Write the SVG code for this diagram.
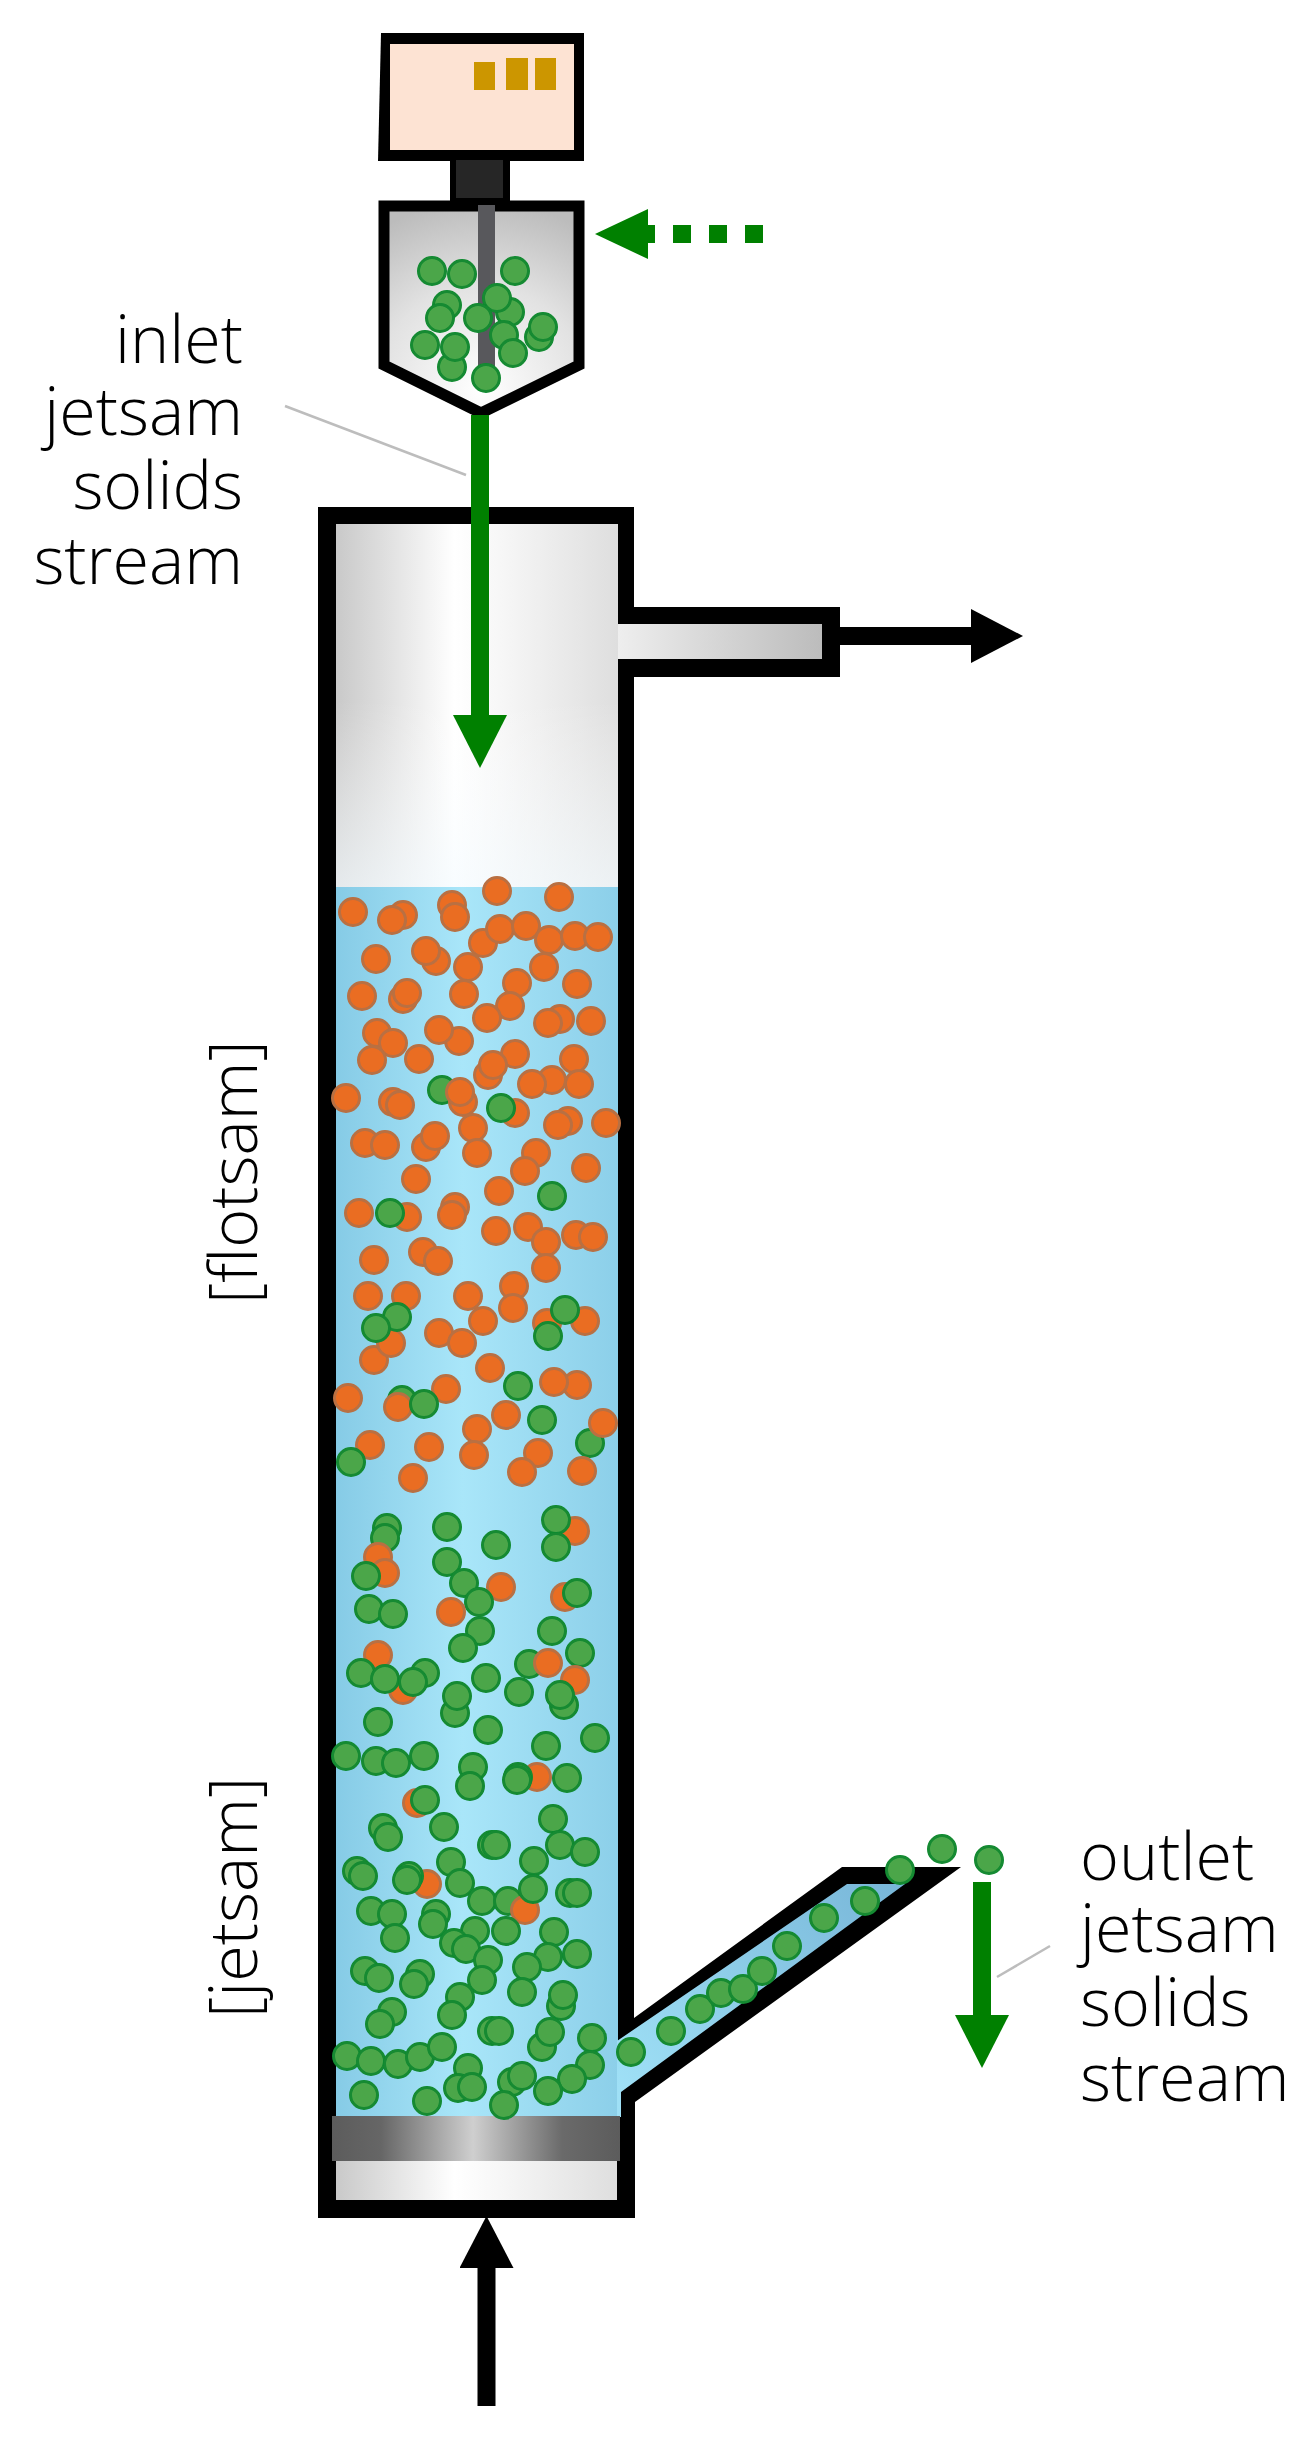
<svg xmlns="http://www.w3.org/2000/svg" width="1313" height="2440" viewBox="0 0 1313 2440">
<style>
.o{fill:#ea6d24;stroke:#b96f42;stroke-width:3}
.g{fill:#4ca64a;stroke:#128a30;stroke-width:3}
.wall{fill:#000}
.t{font-family:"Open Sans","Noto Sans",sans-serif;font-size:66.500px;font-weight:300;fill:#000}
.lead{stroke:#bdbdbd;stroke-width:2.5;fill:none}
.gl{stroke:#008000;stroke-width:18;fill:none}
.kl{stroke:#000;stroke-width:18;fill:none}
circle{r:13.5px}
</style>
<defs>
<filter id="soft" x="-5%" y="-5%" width="110%" height="110%"><feGaussianBlur stdDeviation="0.6"/></filter>
<marker id="hg" markerUnits="userSpaceOnUse" markerWidth="54" markerHeight="54" viewBox="0 0 54 54" refX="0" refY="27" orient="auto"><path d="M0,0L53,27L0,54Z" fill="#008000"/></marker>
<marker id="hd" markerUnits="userSpaceOnUse" markerWidth="54" markerHeight="50" viewBox="0 0 54 50" refX="0" refY="25" orient="auto"><path d="M0,0L53,25L0,50Z" fill="#008000"/></marker>
<marker id="hk" markerUnits="userSpaceOnUse" markerWidth="53" markerHeight="54" viewBox="0 0 53 54" refX="0" refY="27" orient="auto"><path d="M0,0L52,27L0,54Z" fill="#000"/></marker>
<linearGradient id="gray" gradientUnits="userSpaceOnUse" x1="336" y1="0" x2="618" y2="0"><stop offset="0" stop-color="#c9c9c9"/><stop offset=".15" stop-color="#dcdcdc"/><stop offset=".42" stop-color="#fff"/><stop offset=".6" stop-color="#f6f6f6"/><stop offset="1" stop-color="#dedede"/></linearGradient>
<linearGradient id="fade" gradientUnits="userSpaceOnUse" x1="0" y1="700" x2="0" y2="888"><stop offset="0" stop-color="#fff" stop-opacity="0"/><stop offset="1" stop-color="#f4fbff" stop-opacity=".65"/></linearGradient>
<linearGradient id="noz" gradientUnits="userSpaceOnUse" x1="618" y1="0" x2="822" y2="0"><stop offset="0" stop-color="#eeeeee"/><stop offset="1" stop-color="#bcbcbc"/></linearGradient>
<linearGradient id="liq" gradientUnits="userSpaceOnUse" x1="336" y1="0" x2="618" y2="0"><stop offset="0" stop-color="#86cbe6"/><stop offset=".45" stop-color="#a9e6f9"/><stop offset="1" stop-color="#8ccfe9"/></linearGradient>
<linearGradient id="chu" gradientUnits="userSpaceOnUse" x1="620" y1="2090" x2="900" y2="1885"><stop offset="0" stop-color="#9fe0f6"/><stop offset="1" stop-color="#78b6d8"/></linearGradient>
<linearGradient id="plate" gradientUnits="userSpaceOnUse" x1="332" y1="0" x2="620" y2="0"><stop offset="0" stop-color="#5c5c5c"/><stop offset=".17" stop-color="#666"/><stop offset=".49" stop-color="#cfcfcf"/><stop offset=".8" stop-color="#6a6a6a"/><stop offset="1" stop-color="#5c5c5c"/></linearGradient>
<radialGradient id="hop" gradientUnits="userSpaceOnUse" cx="481" cy="390" r="190"><stop offset="0" stop-color="#ffffff"/><stop offset=".55" stop-color="#e2e2e2"/><stop offset="1" stop-color="#bcbcbc"/></radialGradient>
</defs>
<rect width="1313" height="2440" fill="#fff"/>

<g id="connectors">
<path class="lead" d="M285,406L466,475"/>
<path class="lead" d="M997,1977L1050,1946"/>
<path class="gl" d="M763,234H648" stroke-dasharray="18 18" marker-end="url(#hd)"/>
<path class="kl" d="M840,636H971" marker-end="url(#hk)"/>
<path class="kl" d="M486.500,2406V2268" marker-end="url(#hk)"/>
<path class="gl" d="M982,1882V2015" marker-end="url(#hg)"/>
</g>

<g id="motor">
<path class="wall" d="M381,33H584V161H378Z"/>
<rect x="390" y="44" width="184" height="106" fill="#fde3d3"/>
<rect x="474" y="62" width="21" height="28" fill="#cc9600"/>
<rect x="506" y="58" width="22" height="32" fill="#cc9600"/>
<rect x="535" y="58" width="21" height="32" fill="#cc9600"/>
<rect x="450" y="160" width="60" height="42" fill="#000"/>
<rect x="456" y="160" width="47" height="38" fill="#262626"/>
</g>

<g id="hopper">
<path d="M384,206H579V365L481,413L384,365Z" fill="url(#hop)" stroke="#000" stroke-width="11"/>
<rect x="478" y="205" width="17" height="165" fill="#58585c"/>
<g filter="url(#soft)">
<circle class="g" cx="432" cy="271"/><circle class="g" cx="462" cy="274"/><circle class="g" cx="515" cy="271"/><circle class="g" cx="447" cy="305"/><circle class="g" cx="440" cy="318"/><circle class="g" cx="510" cy="312"/><circle class="g" cx="497" cy="298"/><circle class="g" cx="478" cy="318"/><circle class="g" cx="539" cy="337"/><circle class="g" cx="543" cy="327"/><circle class="g" cx="504" cy="335"/><circle class="g" cx="425" cy="345"/><circle class="g" cx="452" cy="367"/><circle class="g" cx="455" cy="347"/><circle class="g" cx="513" cy="353"/><circle class="g" cx="486" cy="378"/>
</g>
</g>

<g id="column">
<path class="wall" d="M318,507H634V607H840V677H634V2018L842,1867H961L635,2102V2218H318Z"/>
<rect x="336" y="524" width="282" height="364" fill="url(#gray)"/>
<rect x="336" y="700" width="282" height="188" fill="url(#fade)"/>
<rect x="618" y="624" width="204" height="35" fill="url(#noz)"/>
<rect x="336" y="887" width="282" height="1230" fill="url(#liq)"/>
<path d="M617,2041L847,1884H905L621,2092V2117H617Z" fill="url(#chu)"/>
<rect x="332" y="2116" width="288" height="45" fill="url(#plate)"/>
<rect x="336" y="2161" width="281" height="39" fill="url(#gray)"/>
</g>

<g id="inlet-arrow">
<path class="gl" d="M480,415V715" marker-end="url(#hg)"/>
</g>

<g id="particles" filter="url(#soft)">
<circle class="o" cx="353" cy="912"/><circle class="o" cx="403" cy="915"/><circle class="o" cx="392" cy="920"/><circle class="o" cx="452" cy="905"/><circle class="o" cx="455" cy="917"/><circle class="o" cx="497" cy="891"/><circle class="o" cx="559" cy="897"/>
<circle class="o" cx="376" cy="959"/><circle class="o" cx="436" cy="961"/><circle class="o" cx="426" cy="951"/><circle class="o" cx="483" cy="943"/><circle class="o" cx="500" cy="929"/><circle class="o" cx="526" cy="926"/><circle class="o" cx="549" cy="940"/><circle class="o" cx="575" cy="936"/><circle class="o" cx="598" cy="937"/>
<circle class="o" cx="468" cy="967"/><circle class="o" cx="544" cy="967"/><circle class="o" cx="464" cy="994"/><circle class="o" cx="517" cy="983"/><circle class="o" cx="577" cy="984"/><circle class="o" cx="362" cy="996"/><circle class="o" cx="403" cy="999"/><circle class="o" cx="407" cy="993"/><circle class="o" cx="510" cy="1006"/><circle class="o" cx="487" cy="1018"/>
<circle class="o" cx="560" cy="1019"/><circle class="o" cx="548" cy="1023"/><circle class="o" cx="591" cy="1021"/><circle class="o" cx="377" cy="1033"/><circle class="o" cx="393" cy="1043"/><circle class="o" cx="372" cy="1060"/><circle class="o" cx="419" cy="1059"/><circle class="o" cx="459" cy="1041"/><circle class="o" cx="439" cy="1030"/>
<circle class="o" cx="515" cy="1054"/><circle class="o" cx="488" cy="1075"/><circle class="o" cx="493" cy="1065"/><circle class="o" cx="574" cy="1059"/><circle class="o" cx="579" cy="1084"/><circle class="o" cx="552" cy="1080"/><circle class="o" cx="532" cy="1084"/>
<circle class="o" cx="346" cy="1098"/><circle class="o" cx="393" cy="1102"/><circle class="o" cx="400" cy="1105"/><circle class="g" cx="442" cy="1090"/><circle class="o" cx="463" cy="1102"/><circle class="o" cx="460" cy="1092"/><circle class="o" cx="515" cy="1113"/><circle class="g" cx="501" cy="1108"/>
<circle class="o" cx="473" cy="1128"/><circle class="o" cx="477" cy="1153"/><circle class="o" cx="568" cy="1121"/><circle class="o" cx="558" cy="1125"/><circle class="o" cx="606" cy="1123"/><circle class="o" cx="365" cy="1143"/><circle class="o" cx="385" cy="1145"/><circle class="o" cx="426" cy="1147"/><circle class="o" cx="435" cy="1136"/><circle class="o" cx="536" cy="1153"/><circle class="o" cx="525" cy="1171"/><circle class="o" cx="586" cy="1168"/><circle class="o" cx="416" cy="1179"/><circle class="o" cx="499" cy="1191"/><circle class="g" cx="552" cy="1196"/>
<circle class="o" cx="359" cy="1213"/><circle class="o" cx="407" cy="1217"/><circle class="g" cx="390" cy="1213"/><circle class="o" cx="455" cy="1207"/><circle class="o" cx="452" cy="1215"/><circle class="o" cx="496" cy="1231"/><circle class="o" cx="528" cy="1227"/><circle class="o" cx="546" cy="1242"/><circle class="o" cx="576" cy="1235"/><circle class="o" cx="593" cy="1237"/>
<circle class="o" cx="374" cy="1260"/><circle class="o" cx="423" cy="1252"/><circle class="o" cx="438" cy="1261"/><circle class="o" cx="546" cy="1268"/><circle class="o" cx="368" cy="1296"/><circle class="o" cx="406" cy="1296"/><circle class="o" cx="468" cy="1296"/><circle class="o" cx="514" cy="1286"/><circle class="o" cx="513" cy="1308"/>
<circle class="o" cx="547" cy="1323"/><circle class="o" cx="585" cy="1321"/><circle class="g" cx="565" cy="1310"/><circle class="g" cx="548" cy="1336"/><circle class="o" cx="374" cy="1360"/><circle class="o" cx="391" cy="1343"/><circle class="g" cx="397" cy="1317"/><circle class="g" cx="376" cy="1328"/>
<circle class="o" cx="483" cy="1321"/><circle class="o" cx="439" cy="1333"/><circle class="o" cx="462" cy="1343"/><circle class="o" cx="490" cy="1368"/><circle class="g" cx="518" cy="1386"/><circle class="o" cx="577" cy="1385"/><circle class="o" cx="554" cy="1382"/><circle class="o" cx="348" cy="1398"/>
<circle class="g" cx="402" cy="1400"/><circle class="o" cx="398" cy="1407"/><circle class="o" cx="446" cy="1389"/><circle class="g" cx="424" cy="1404"/><circle class="o" cx="506" cy="1415"/><circle class="g" cx="542" cy="1420"/><circle class="g" cx="590" cy="1443"/><circle class="o" cx="603" cy="1423"/><circle class="o" cx="477" cy="1429"/><circle class="o" cx="474" cy="1455"/><circle class="o" cx="370" cy="1445"/><circle class="g" cx="351" cy="1462"/><circle class="o" cx="429" cy="1447"/><circle class="o" cx="413" cy="1478"/><circle class="o" cx="538" cy="1453"/><circle class="o" cx="522" cy="1472"/><circle class="o" cx="582" cy="1471"/>
<circle class="g" cx="387" cy="1528"/><circle class="g" cx="385" cy="1538"/><circle class="o" cx="378" cy="1557"/><circle class="o" cx="385" cy="1573"/><circle class="g" cx="366" cy="1576"/><circle class="g" cx="447" cy="1527"/><circle class="g" cx="496" cy="1545"/><circle class="o" cx="575" cy="1531"/><circle class="g" cx="556" cy="1520"/><circle class="g" cx="556" cy="1547"/>
<circle class="g" cx="447" cy="1562"/><circle class="g" cx="464" cy="1583"/><circle class="o" cx="501" cy="1587"/><circle class="g" cx="479" cy="1602"/><circle class="o" cx="451" cy="1612"/><circle class="o" cx="565" cy="1597"/><circle class="g" cx="577" cy="1593"/><circle class="g" cx="369" cy="1609"/><circle class="g" cx="393" cy="1614"/><circle class="g" cx="552" cy="1631"/><circle class="g" cx="480" cy="1631"/><circle class="g" cx="463" cy="1648"/>
<circle class="o" cx="378" cy="1655"/><circle class="g" cx="580" cy="1653"/><circle class="g" cx="529" cy="1664"/><circle class="o" cx="548" cy="1663"/><circle class="o" cx="575" cy="1680"/><circle class="o" cx="403" cy="1690"/><circle class="g" cx="361" cy="1673"/><circle class="g" cx="385" cy="1679"/><circle class="g" cx="425" cy="1673"/><circle class="g" cx="413" cy="1682"/><circle class="g" cx="486" cy="1678"/><circle class="g" cx="519" cy="1692"/><circle class="g" cx="564" cy="1705"/><circle class="g" cx="560" cy="1695"/>
<circle class="g" cx="455" cy="1713"/><circle class="g" cx="457" cy="1696"/><circle class="g" cx="378" cy="1722"/><circle class="g" cx="488" cy="1730"/><circle class="g" cx="595" cy="1738"/><circle class="g" cx="546" cy="1746"/><circle class="g" cx="346" cy="1756"/><circle class="g" cx="376" cy="1761"/><circle class="g" cx="396" cy="1763"/><circle class="g" cx="424" cy="1756"/><circle class="g" cx="473" cy="1767"/><circle class="g" cx="470" cy="1786"/><circle class="o" cx="537" cy="1777"/><circle class="g" cx="518" cy="1777"/><circle class="g" cx="517" cy="1780"/><circle class="g" cx="567" cy="1778"/>
<circle class="o" cx="417" cy="1803"/><circle class="g" cx="425" cy="1800"/><circle class="g" cx="553" cy="1819"/><circle class="g" cx="444" cy="1827"/><circle class="g" cx="383" cy="1828"/><circle class="g" cx="388" cy="1837"/><circle class="g" cx="492" cy="1845"/><circle class="g" cx="496" cy="1845"/><circle class="g" cx="560" cy="1845"/><circle class="g" cx="585" cy="1852"/>
<circle class="g" cx="534" cy="1861"/><circle class="g" cx="451" cy="1862"/><circle class="g" cx="357" cy="1871"/><circle class="g" cx="363" cy="1876"/><circle class="o" cx="427" cy="1884"/><circle class="g" cx="409" cy="1876"/><circle class="g" cx="407" cy="1880"/><circle class="g" cx="460" cy="1883"/><circle class="g" cx="570" cy="1893"/><circle class="g" cx="577" cy="1893"/><circle class="g" cx="482" cy="1901"/><circle class="g" cx="508" cy="1901"/><circle class="o" cx="525" cy="1910"/><circle class="g" cx="533" cy="1889"/>
<circle class="g" cx="371" cy="1911"/><circle class="g" cx="392" cy="1914"/><circle class="g" cx="436" cy="1914"/><circle class="g" cx="433" cy="1924"/><circle class="g" cx="395" cy="1938"/><circle class="g" cx="475" cy="1931"/><circle class="g" cx="506" cy="1931"/><circle class="g" cx="554" cy="1932"/><circle class="g" cx="454" cy="1943"/><circle class="g" cx="466" cy="1949"/><circle class="g" cx="548" cy="1957"/><circle class="g" cx="577" cy="1954"/><circle class="g" cx="488" cy="1960"/><circle class="g" cx="527" cy="1967"/>
<circle class="g" cx="365" cy="1971"/><circle class="g" cx="379" cy="1978"/><circle class="g" cx="420" cy="1974"/><circle class="g" cx="414" cy="1984"/><circle class="g" cx="482" cy="1980"/><circle class="g" cx="522" cy="1992"/><circle class="g" cx="561" cy="2006"/><circle class="g" cx="563" cy="1995"/><circle class="g" cx="460" cy="1997"/><circle class="g" cx="452" cy="2015"/><circle class="g" cx="392" cy="2012"/><circle class="g" cx="380" cy="2024"/><circle class="g" cx="492" cy="2031"/><circle class="g" cx="499" cy="2031"/><circle class="g" cx="542" cy="2047"/><circle class="g" cx="550" cy="2032"/><circle class="g" cx="592" cy="2038"/>
<circle class="g" cx="347" cy="2056"/><circle class="g" cx="371" cy="2061"/><circle class="g" cx="398" cy="2064"/><circle class="g" cx="420" cy="2057"/><circle class="g" cx="442" cy="2047"/><circle class="g" cx="468" cy="2068"/><circle class="g" cx="458" cy="2088"/><circle class="g" cx="472" cy="2087"/><circle class="g" cx="590" cy="2065"/><circle class="g" cx="572" cy="2079"/><circle class="g" cx="548" cy="2091"/><circle class="g" cx="512" cy="2082"/><circle class="g" cx="522" cy="2076"/><circle class="g" cx="504" cy="2105"/><circle class="g" cx="364" cy="2095"/><circle class="g" cx="427" cy="2101"/>
<circle class="g" cx="631" cy="2052"/><circle class="g" cx="671" cy="2031"/><circle class="g" cx="700" cy="2009"/><circle class="g" cx="721" cy="1993"/><circle class="g" cx="743" cy="1989"/><circle class="g" cx="762" cy="1971"/><circle class="g" cx="787" cy="1946"/><circle class="g" cx="824" cy="1918"/><circle class="g" cx="865" cy="1901"/><circle class="g" cx="900" cy="1870"/><circle class="g" cx="942" cy="1849"/><circle class="g" cx="989" cy="1860"/>
</g>

<g id="label-inlet" class="t" text-anchor="end">
<text x="243" y="363">inlet</text>
<text x="243" y="435">jetsam</text>
<text x="243" y="509">solids</text>
<text x="243" y="584">stream</text>
</g>
<g id="label-outlet" class="t">
<text x="1080" y="1880">outlet</text>
<text x="1080" y="1952">jetsam</text>
<text x="1080" y="2026">solids</text>
<text x="1080" y="2101">stream</text>
</g>
<g id="label-zones" class="t">
<text transform="translate(257,1304) rotate(-90)">[flotsam]</text>
<text transform="translate(257,2018) rotate(-90)">[jetsam]</text>
</g>
</svg>
